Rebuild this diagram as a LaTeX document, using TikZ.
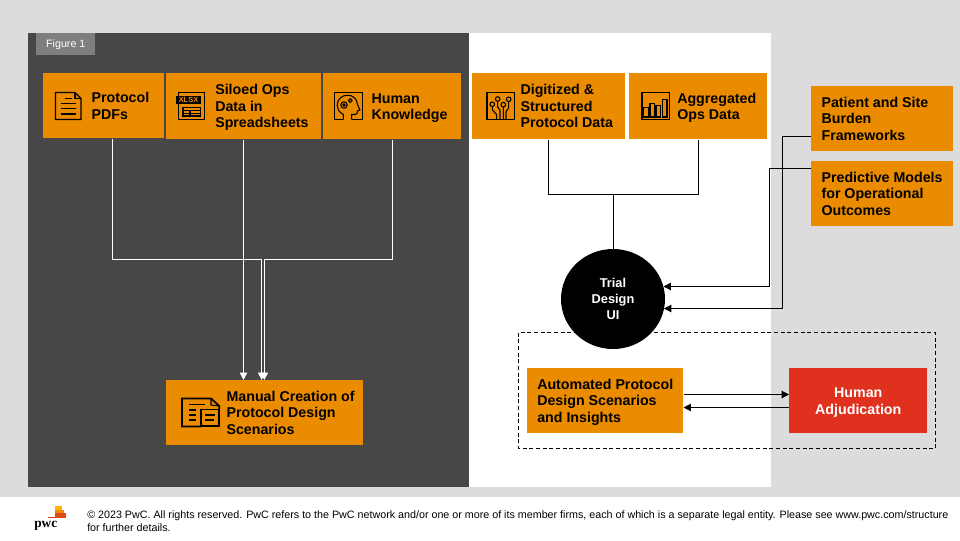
\documentclass[tikz,border=0pt]{standalone}
\usepackage{fontspec}
\setmainfont{Liberation Sans}
\newfontfamily\logofont{Liberation Serif}
\usetikzlibrary{arrows.meta,shapes.geometric}
\newdimen\px \px=0.75pt
\definecolor{pwcorange}{HTML}{EB8C00}
\definecolor{pwcred}{HTML}{E0301E}
\definecolor{panel}{HTML}{474747}
\definecolor{slide}{HTML}{DCDCDC}
\definecolor{tabgray}{HTML}{7F7F7F}
\definecolor{logoyellow}{HTML}{FFB600}
\tikzset{
  x=0.75pt,y=-0.75pt,
  orangebox/.style={fill=pwcorange,inner sep=0pt,anchor=north west,text=black,
    font=\fontsize{10.67}{12.4}\selectfont\bfseries},
  redbox/.style={fill=pwcred,inner sep=0pt,anchor=north west,text=white,
    font=\fontsize{10.67}{12.4}\selectfont\bfseries},
  wire/.style={draw=white,line width=0.9pt},
  wirearrow/.style={wire,-{Triangle[length=5.5pt,width=5.5pt]}},
  bwire/.style={draw=black,line width=0.9pt},
  bwirearrow/.style={bwire,-{Triangle[length=5.5pt,width=5.5pt]}},
  icon/.style={draw=black,line width=0.8pt,fill=none},
  iconthick/.style={draw=black,line width=1.3pt},
}
\newcommand{\toppad}{\rule{0pt}{11.3pt}}
\newcommand{\obox}[7]{% name,x,y,w,h,offset,text
  \node[orangebox,minimum width=#4\px,minimum height=#5\px] (#1) at (#2,#3)
    {\makebox[#4\px][l]{\hspace*{#6\px}\begin{tabular}{@{}l@{}}\toppad #7\end{tabular}}};}
\begin{document}
\begin{tikzpicture}
\useasboundingbox (0,0) rectangle (960,540);
\fill[slide] (0,0) rectangle (960,497);
\fill[white] (0,497) rectangle (960,540);
\fill[panel] (28,33) rectangle (469,487);
\fill[white] (469,33) rectangle (771,487);
\node[fill=tabgray,text=white,inner sep=0pt,minimum width=59\px,minimum height=22\px,anchor=north west,
  font=\fontsize{8}{10}\selectfont] (tab) at (36,33) {Figure 1};

\obox{pdfs}{43}{73}{121}{65}{48.3}{Protocol\\PDFs}
\obox{siloed}{166}{73}{155}{66}{49}{Siloed Ops\\Data in\\Spreadsheets}
\obox{knowledge}{323}{73}{138}{66}{48.3}{Human\\Knowledge}
\obox{manual}{166}{380}{197}{65}{60.3}{Manual Creation of\\Protocol Design\\Scenarios}
\obox{digitized}{472}{73}{153}{66}{48.3}{Digitized \&\\Structured\\Protocol Data}
\obox{aggregated}{629}{73}{138}{66}{48}{Aggregated\\Ops Data}
\obox{patient}{811}{86}{142}{65}{10.3}{Patient and Site\\Burden\\Frameworks}
\obox{predictive}{811}{161}{142}{65}{10.3}{Predictive Models\\for Operational\\Outcomes}
\obox{automated}{527}{368}{156}{65}{10}{Automated Protocol\\Design Scenarios\\and Insights}
\node[redbox,minimum width=138\px,minimum height=65\px] (adjudication) at (789,368)
  {\begin{tabular}{@{}c@{}}\toppad Human\\Adjudication\end{tabular}};
\node[ellipse,fill=black,text=white,inner sep=0pt,minimum width=104\px,minimum height=100\px,align=center,
  font=\fontsize{9.6}{12}\selectfont\bfseries] (ui) at (613,299) {Trial\\Design\\UI};
\draw[black,line width=0.75pt,dash pattern=on 3pt off 2pt] (518.5,332.5) rectangle (935.5,448.5);

% connectors: dark panel
\coordinate (m1) at (243.5,380);
\coordinate (m2) at (261.7,380);
\coordinate (m3) at (264.3,380);
\coordinate (j1) at (261.7,259.5);
\coordinate (j2) at (264.3,259.5);
\draw[wire] (pdfs.south -| 112.5,0) |- (j1);
\draw[wirearrow] (j1) -- (m2);
\draw[wirearrow] (siloed.south -| 243.5,0) -- (m1);
\draw[wire] (knowledge.south -| 392.5,0) |- (j2);
\draw[wirearrow] (j2) -- (m3);

% connectors: white panel
\coordinate (j3) at (613.5,194.5);
\coordinate (uitop) at (613.5,249.5);
\coordinate (uiin1) at (663.5,286.5);
\coordinate (uiin2) at (664,308.5);
\draw[bwire] (digitized.south -| 548.5,0) |- (j3);
\draw[bwire] (aggregated.south -| 698.5,0) |- (j3);
\draw[bwire] (j3) -- (uitop);
\draw[bwirearrow] (patient.west |- 0,136.5) -| (782.5,308.5) -- (uiin2);
\draw[bwirearrow] (predictive.west |- 0,168.5) -| (769.5,286.5) -- (uiin1);
\draw[bwirearrow] (automated.east |- 0,394.5) -- (adjudication.west |- 0,394.5);
\draw[bwirearrow] (adjudication.west |- 0,407.5) -- (automated.east |- 0,407.5);

% icons
\draw[icon] (55.5,92.5) -- (75,92.5) -- (81,98.5) -- (81,119.5) -- (55.5,119.5) -- cycle;
\draw[icon] (75,92.5) -- (75,98.5) -- (81,98.5);
\draw[icon] (65,98.5) -- (72,98.5) (60.5,103.5) -- (76,103.5) (60.5,108.5) -- (76,108.5) (60.5,114) -- (76,114);

\draw[icon] (178.5,92.5) rectangle (204.5,119.5);
\node[fill=black,text=pwcorange,inner sep=0pt,minimum width=24.5\px,minimum height=8.5\px,anchor=north west,
  font=\fontsize{5.6}{6}\selectfont\bfseries] (xlsx) at (176,95.5) {XLSX};
\draw[icon] (183,107.5) rectangle (200.5,116);
\draw[icon] (183,110.3) -- (200.5,110.3) (183,113.2) -- (200.5,113.2) (190,110.3) -- (190,116);

\draw[icon] (343.3,119.5) -- (334.5,119.5) -- (334.5,92.5) -- (362.5,92.5) -- (362.5,119.5) -- (351.7,119.5);
\draw[icon] (343.3,119.5) -- (343.3,114.5) .. controls (339,112) and (337.2,109) .. (337.2,105.5)
  .. controls (337.2,99) and (342,95.2) .. (347.5,95.2)
  .. controls (353,95.2) and (357.3,99) .. (357.3,104)
  -- (360,110) -- (357.3,111) -- (357.3,113) .. controls (357,115) and (354,114.5) .. (351.7,114.5) -- (351.7,119.5);
\draw[icon] (344,105) circle (3.2) (344,105) circle (1.2) (350.3,100.5) circle (1.9);

\draw[icon] (487,92.5) rectangle (514.3,119.5);
\draw[icon] (497.7,99) circle (2.3) (508.7,99.3) circle (2.3) (503.3,104.7) circle (2.3) (492.3,104.3) circle (2.3);
\draw[icon] (492.3,106.6) -- (492.3,110) -- (496.7,114.5) -- (496.7,119.5)
  (497.7,101.3) -- (497.7,107) -- (500,110) -- (500,119.5)
  (503.3,107) -- (503.3,119.5)
  (508.7,101.6) -- (508.7,108) -- (506,111.5) -- (506,119.5);

\draw[icon] (642,92.5) rectangle (669.3,119.5);
\draw[icon] (643.9,107.3) rectangle (649,117) (650,103.3) rectangle (654.7,117)
  (656,105.7) rectangle (660.7,117) (662.3,99.3) rectangle (667,117);

\draw[iconthick] (201,426.5) -- (182,426.5) -- (182,398.5) -- (211,398.5) -- (219.3,406) -- (219.3,409.5);
\draw[icon] (211,398.5) -- (211,405) -- (219.3,406);
\draw[iconthick] (200.7,409.5) rectangle (219.3,426);
\draw[icon] (189.3,404.3) -- (205,404.3) (189.3,410) -- (196,410) (189.3,415) -- (196,415);
\draw[iconthick] (189.3,420.3) -- (196,420.3) (205,420.3) -- (214,420.3);
\draw[icon] (205,415) -- (215,415);

% footer
\node[inner sep=0pt,anchor=west,font=\fontsize{8.04}{9.75}\selectfont,align=left,text=black] (footer) at (87,521)
  {© 2023 PwC. All rights reserved. PwC refers to the PwC network and/or one or more of its member firms, each of which is a separate legal entity. Please see www.pwc.com/structure\\for further details.};
% logo
\fill[pwcred] (48,516.6) rectangle (55,518);
\fill[logoyellow] (55,506) rectangle (62,518);
\fill[pwcorange] (55,510) rectangle (64,518);
\fill[pwcred!70!pwcorange] (55,513) rectangle (66,518);
\node[inner sep=0pt,anchor=base west,font=\fontsize{10}{11}\logofont\bfseries,text=black] (logo) at (34,527.5) {pwc};
\end{tikzpicture}
\end{document}
